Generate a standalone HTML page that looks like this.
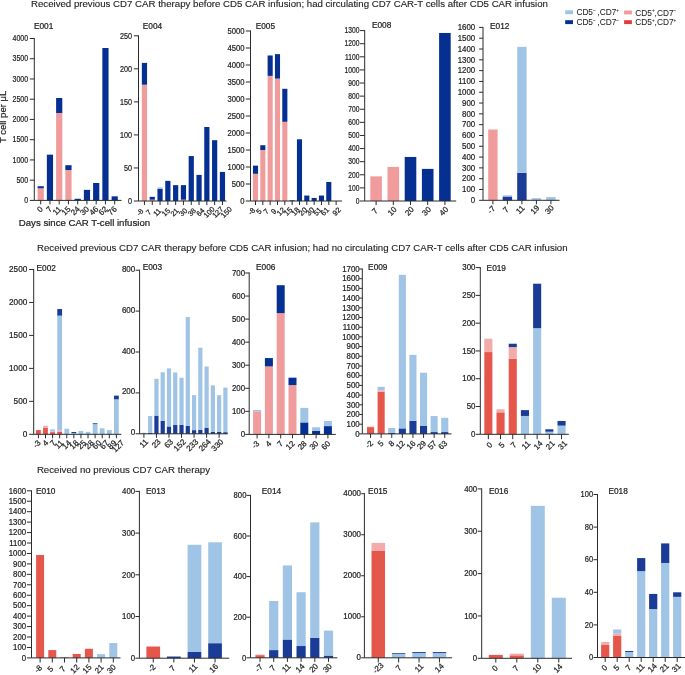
<!DOCTYPE html>
<html><head><meta charset="utf-8"><style>
html,body{margin:0;padding:0;background:#fff;}
svg{display:block;will-change:transform;}
text{font-family:"Liberation Sans", sans-serif;fill:#1e1e1e;stroke:#1e1e1e;stroke-width:0.22px;}
</style></head><body>
<svg width="685" height="675" viewBox="0 0 685 675">
<rect width="685" height="675" fill="#fff"/>
<rect x="37.60" y="188.26" width="6.20" height="12.14" fill="#f09c9c"/>
<rect x="37.60" y="186.23" width="6.20" height="2.02" fill="#052f91"/>
<rect x="46.85" y="154.66" width="6.20" height="45.74" fill="#052f91"/>
<rect x="56.10" y="112.97" width="6.20" height="87.43" fill="#f09c9c"/>
<rect x="56.10" y="98.00" width="6.20" height="14.98" fill="#052f91"/>
<rect x="65.35" y="170.04" width="6.20" height="30.36" fill="#f09c9c"/>
<rect x="65.35" y="165.19" width="6.20" height="4.86" fill="#052f91"/>
<rect x="74.60" y="198.78" width="6.20" height="1.62" fill="#052f91"/>
<rect x="83.85" y="189.88" width="6.20" height="10.52" fill="#052f91"/>
<rect x="93.10" y="183.00" width="6.20" height="17.40" fill="#052f91"/>
<rect x="102.35" y="48.01" width="6.20" height="152.39" fill="#052f91"/>
<rect x="111.60" y="196.35" width="6.20" height="4.05" fill="#052f91"/>
<path d="M34.30 38.00V200.40H121.50" fill="none" stroke="#2b2b2b" stroke-width="1"/>
<path d="M29.80 200.40H34.30" stroke="#2b2b2b" stroke-width="1"/>
<text transform="translate(28.10 203.15) scale(0.845 1)" font-size="8.3" text-anchor="end">0</text>
<path d="M29.80 180.16H34.30" stroke="#2b2b2b" stroke-width="1"/>
<text transform="translate(28.10 182.91) scale(0.845 1)" font-size="8.3" text-anchor="end">500</text>
<path d="M29.80 159.93H34.30" stroke="#2b2b2b" stroke-width="1"/>
<text transform="translate(28.10 162.67) scale(0.845 1)" font-size="8.3" text-anchor="end">1000</text>
<path d="M29.80 139.69H34.30" stroke="#2b2b2b" stroke-width="1"/>
<text transform="translate(28.10 142.43) scale(0.845 1)" font-size="8.3" text-anchor="end">1500</text>
<path d="M29.80 119.45H34.30" stroke="#2b2b2b" stroke-width="1"/>
<text transform="translate(28.10 122.20) scale(0.845 1)" font-size="8.3" text-anchor="end">2000</text>
<path d="M29.80 99.21H34.30" stroke="#2b2b2b" stroke-width="1"/>
<text transform="translate(28.10 101.96) scale(0.845 1)" font-size="8.3" text-anchor="end">2500</text>
<path d="M29.80 78.97H34.30" stroke="#2b2b2b" stroke-width="1"/>
<text transform="translate(28.10 81.72) scale(0.845 1)" font-size="8.3" text-anchor="end">3000</text>
<path d="M29.80 58.74H34.30" stroke="#2b2b2b" stroke-width="1"/>
<text transform="translate(28.10 61.48) scale(0.845 1)" font-size="8.3" text-anchor="end">3500</text>
<path d="M29.80 38.50H34.30" stroke="#2b2b2b" stroke-width="1"/>
<text transform="translate(28.10 41.25) scale(0.845 1)" font-size="8.3" text-anchor="end">4000</text>
<path d="M40.70 200.40V204.40" stroke="#2b2b2b" stroke-width="1"/>
<text x="43.30" y="209.56" font-size="8.0" text-anchor="end" transform="rotate(-45 43.30 209.56)">0</text>
<path d="M49.95 200.40V204.40" stroke="#2b2b2b" stroke-width="1"/>
<text x="52.55" y="209.56" font-size="8.0" text-anchor="end" transform="rotate(-45 52.55 209.56)">7</text>
<path d="M59.20 200.40V204.40" stroke="#2b2b2b" stroke-width="1"/>
<text x="61.80" y="209.56" font-size="8.0" text-anchor="end" transform="rotate(-45 61.80 209.56)">11</text>
<path d="M68.45 200.40V204.40" stroke="#2b2b2b" stroke-width="1"/>
<text x="71.05" y="209.56" font-size="8.0" text-anchor="end" transform="rotate(-45 71.05 209.56)">15</text>
<path d="M77.70 200.40V204.40" stroke="#2b2b2b" stroke-width="1"/>
<text x="80.30" y="209.56" font-size="8.0" text-anchor="end" transform="rotate(-45 80.30 209.56)">24</text>
<path d="M86.95 200.40V204.40" stroke="#2b2b2b" stroke-width="1"/>
<text x="89.55" y="209.56" font-size="8.0" text-anchor="end" transform="rotate(-45 89.55 209.56)">30</text>
<path d="M96.20 200.40V204.40" stroke="#2b2b2b" stroke-width="1"/>
<text x="98.80" y="209.56" font-size="8.0" text-anchor="end" transform="rotate(-45 98.80 209.56)">46</text>
<path d="M105.45 200.40V204.40" stroke="#2b2b2b" stroke-width="1"/>
<text x="108.05" y="209.56" font-size="8.0" text-anchor="end" transform="rotate(-45 108.05 209.56)">62</text>
<path d="M114.70 200.40V204.40" stroke="#2b2b2b" stroke-width="1"/>
<text x="117.30" y="209.56" font-size="8.0" text-anchor="end" transform="rotate(-45 117.30 209.56)">76</text>
<text x="33.90" y="28.70" font-size="8.3" text-anchor="start" >E001</text>
<rect x="141.85" y="84.70" width="5.20" height="116.30" fill="#f09c9c"/>
<rect x="141.85" y="62.89" width="5.20" height="21.81" fill="#052f91"/>
<rect x="149.65" y="199.68" width="5.20" height="1.32" fill="#f09c9c"/>
<rect x="149.65" y="196.84" width="5.20" height="2.84" fill="#052f91"/>
<rect x="157.45" y="188.84" width="5.20" height="12.16" fill="#052f91"/>
<rect x="157.45" y="187.32" width="5.20" height="1.52" fill="#a0c4e6"/>
<rect x="165.25" y="180.85" width="5.20" height="20.15" fill="#052f91"/>
<rect x="173.05" y="185.14" width="5.20" height="15.86" fill="#052f91"/>
<rect x="180.85" y="199.68" width="5.20" height="1.32" fill="#f09c9c"/>
<rect x="180.85" y="185.14" width="5.20" height="14.54" fill="#052f91"/>
<rect x="188.65" y="156.07" width="5.20" height="44.93" fill="#052f91"/>
<rect x="196.45" y="174.90" width="5.20" height="26.10" fill="#052f91"/>
<rect x="204.25" y="126.99" width="5.20" height="74.01" fill="#052f91"/>
<rect x="212.05" y="140.21" width="5.20" height="60.79" fill="#052f91"/>
<rect x="219.85" y="171.92" width="5.20" height="29.08" fill="#052f91"/>
<path d="M138.50 35.30V201.00H226.50" fill="none" stroke="#2b2b2b" stroke-width="1"/>
<path d="M133.90 201.00H138.50" stroke="#2b2b2b" stroke-width="1"/>
<text transform="translate(132.00 203.75) scale(0.87 1)" font-size="8.3" text-anchor="end">0</text>
<path d="M133.90 167.96H138.50" stroke="#2b2b2b" stroke-width="1"/>
<text transform="translate(132.00 170.71) scale(0.87 1)" font-size="8.3" text-anchor="end">50</text>
<path d="M133.90 134.92H138.50" stroke="#2b2b2b" stroke-width="1"/>
<text transform="translate(132.00 137.67) scale(0.87 1)" font-size="8.3" text-anchor="end">100</text>
<path d="M133.90 101.88H138.50" stroke="#2b2b2b" stroke-width="1"/>
<text transform="translate(132.00 104.63) scale(0.87 1)" font-size="8.3" text-anchor="end">150</text>
<path d="M133.90 68.84H138.50" stroke="#2b2b2b" stroke-width="1"/>
<text transform="translate(132.00 71.59) scale(0.87 1)" font-size="8.3" text-anchor="end">200</text>
<path d="M133.90 35.80H138.50" stroke="#2b2b2b" stroke-width="1"/>
<text transform="translate(132.00 38.55) scale(0.87 1)" font-size="8.3" text-anchor="end">250</text>
<path d="M144.45 201.00V205.00" stroke="#2b2b2b" stroke-width="1"/>
<text x="141.70" y="213.95" font-size="7.3" text-anchor="middle" transform="rotate(-45 141.70 213.95)">-8</text>
<path d="M152.25 201.00V205.00" stroke="#2b2b2b" stroke-width="1"/>
<text x="150.35" y="213.95" font-size="7.3" text-anchor="middle" transform="rotate(-45 150.35 213.95)">7</text>
<path d="M160.05 201.00V205.00" stroke="#2b2b2b" stroke-width="1"/>
<text x="159.00" y="213.95" font-size="7.3" text-anchor="middle" transform="rotate(-45 159.00 213.95)">11</text>
<path d="M167.85 201.00V205.00" stroke="#2b2b2b" stroke-width="1"/>
<text x="167.65" y="213.95" font-size="7.3" text-anchor="middle" transform="rotate(-45 167.65 213.95)">15</text>
<path d="M175.65 201.00V205.00" stroke="#2b2b2b" stroke-width="1"/>
<text x="176.30" y="213.95" font-size="7.3" text-anchor="middle" transform="rotate(-45 176.30 213.95)">21</text>
<path d="M183.45 201.00V205.00" stroke="#2b2b2b" stroke-width="1"/>
<text x="184.95" y="213.95" font-size="7.3" text-anchor="middle" transform="rotate(-45 184.95 213.95)">30</text>
<path d="M191.25 201.00V205.00" stroke="#2b2b2b" stroke-width="1"/>
<text x="193.60" y="213.95" font-size="7.3" text-anchor="middle" transform="rotate(-45 193.60 213.95)">38</text>
<path d="M199.05 201.00V205.00" stroke="#2b2b2b" stroke-width="1"/>
<text x="202.25" y="213.95" font-size="7.3" text-anchor="middle" transform="rotate(-45 202.25 213.95)">64</text>
<path d="M206.85 201.00V205.00" stroke="#2b2b2b" stroke-width="1"/>
<text x="210.90" y="213.95" font-size="7.3" text-anchor="middle" transform="rotate(-45 210.90 213.95)">100</text>
<path d="M214.65 201.00V205.00" stroke="#2b2b2b" stroke-width="1"/>
<text x="219.55" y="213.95" font-size="7.3" text-anchor="middle" transform="rotate(-45 219.55 213.95)">127</text>
<path d="M222.45 201.00V205.00" stroke="#2b2b2b" stroke-width="1"/>
<text x="228.20" y="213.95" font-size="7.3" text-anchor="middle" transform="rotate(-45 228.20 213.95)">150</text>
<text x="142.80" y="28.90" font-size="8.3" text-anchor="start" >E004</text>
<rect x="252.95" y="173.80" width="5.10" height="27.20" fill="#f09c9c"/>
<rect x="252.95" y="165.64" width="5.10" height="8.16" fill="#052f91"/>
<rect x="260.28" y="150.00" width="5.10" height="51.00" fill="#f09c9c"/>
<rect x="260.28" y="145.24" width="5.10" height="4.76" fill="#052f91"/>
<rect x="267.61" y="75.88" width="5.10" height="125.12" fill="#f09c9c"/>
<rect x="267.61" y="55.48" width="5.10" height="20.40" fill="#052f91"/>
<rect x="274.94" y="78.60" width="5.10" height="122.40" fill="#f09c9c"/>
<rect x="274.94" y="54.12" width="5.10" height="24.48" fill="#052f91"/>
<rect x="282.27" y="121.78" width="5.10" height="79.22" fill="#f09c9c"/>
<rect x="282.27" y="88.80" width="5.10" height="32.98" fill="#052f91"/>
<rect x="289.60" y="200.32" width="5.10" height="0.68" fill="#052f91"/>
<rect x="296.93" y="139.29" width="5.10" height="61.71" fill="#052f91"/>
<rect x="304.26" y="195.56" width="5.10" height="5.44" fill="#052f91"/>
<rect x="311.59" y="197.94" width="5.10" height="3.06" fill="#052f91"/>
<rect x="318.92" y="195.56" width="5.10" height="5.44" fill="#052f91"/>
<rect x="326.25" y="181.96" width="5.10" height="19.04" fill="#052f91"/>
<path d="M250.50 30.50V201.00H342.00" fill="none" stroke="#2b2b2b" stroke-width="1"/>
<path d="M245.80 201.00H250.50" stroke="#2b2b2b" stroke-width="1"/>
<text transform="translate(244.40 203.75) scale(0.92 1)" font-size="8.3" text-anchor="end">0</text>
<path d="M245.80 184.00H250.50" stroke="#2b2b2b" stroke-width="1"/>
<text transform="translate(244.40 186.75) scale(0.92 1)" font-size="8.3" text-anchor="end">500</text>
<path d="M245.80 167.00H250.50" stroke="#2b2b2b" stroke-width="1"/>
<text transform="translate(244.40 169.75) scale(0.92 1)" font-size="8.3" text-anchor="end">1000</text>
<path d="M245.80 150.00H250.50" stroke="#2b2b2b" stroke-width="1"/>
<text transform="translate(244.40 152.75) scale(0.92 1)" font-size="8.3" text-anchor="end">1500</text>
<path d="M245.80 133.00H250.50" stroke="#2b2b2b" stroke-width="1"/>
<text transform="translate(244.40 135.75) scale(0.92 1)" font-size="8.3" text-anchor="end">2000</text>
<path d="M245.80 116.00H250.50" stroke="#2b2b2b" stroke-width="1"/>
<text transform="translate(244.40 118.75) scale(0.92 1)" font-size="8.3" text-anchor="end">2500</text>
<path d="M245.80 99.00H250.50" stroke="#2b2b2b" stroke-width="1"/>
<text transform="translate(244.40 101.75) scale(0.92 1)" font-size="8.3" text-anchor="end">3000</text>
<path d="M245.80 82.00H250.50" stroke="#2b2b2b" stroke-width="1"/>
<text transform="translate(244.40 84.75) scale(0.92 1)" font-size="8.3" text-anchor="end">3500</text>
<path d="M245.80 65.00H250.50" stroke="#2b2b2b" stroke-width="1"/>
<text transform="translate(244.40 67.75) scale(0.92 1)" font-size="8.3" text-anchor="end">4000</text>
<path d="M245.80 48.00H250.50" stroke="#2b2b2b" stroke-width="1"/>
<text transform="translate(244.40 50.75) scale(0.92 1)" font-size="8.3" text-anchor="end">4500</text>
<path d="M245.80 31.00H250.50" stroke="#2b2b2b" stroke-width="1"/>
<text transform="translate(244.40 33.75) scale(0.92 1)" font-size="8.3" text-anchor="end">5000</text>
<path d="M255.50 201.00V205.00" stroke="#2b2b2b" stroke-width="1"/>
<text x="253.40" y="213.20" font-size="7.5" text-anchor="middle" transform="rotate(-45 253.40 213.20)">-8</text>
<path d="M262.83 201.00V205.00" stroke="#2b2b2b" stroke-width="1"/>
<text x="260.73" y="213.20" font-size="7.5" text-anchor="middle" transform="rotate(-45 260.73 213.20)">5</text>
<path d="M270.16 201.00V205.00" stroke="#2b2b2b" stroke-width="1"/>
<text x="268.06" y="213.20" font-size="7.5" text-anchor="middle" transform="rotate(-45 268.06 213.20)">7</text>
<path d="M277.49 201.00V205.00" stroke="#2b2b2b" stroke-width="1"/>
<text x="275.39" y="213.20" font-size="7.5" text-anchor="middle" transform="rotate(-45 275.39 213.20)">9</text>
<path d="M284.82 201.00V205.00" stroke="#2b2b2b" stroke-width="1"/>
<text x="282.72" y="213.20" font-size="7.5" text-anchor="middle" transform="rotate(-45 282.72 213.20)">12</text>
<path d="M292.15 201.00V205.00" stroke="#2b2b2b" stroke-width="1"/>
<text x="290.05" y="213.20" font-size="7.5" text-anchor="middle" transform="rotate(-45 290.05 213.20)">15</text>
<path d="M299.48 201.00V205.00" stroke="#2b2b2b" stroke-width="1"/>
<text x="297.38" y="213.20" font-size="7.5" text-anchor="middle" transform="rotate(-45 297.38 213.20)">18</text>
<path d="M306.81 201.00V205.00" stroke="#2b2b2b" stroke-width="1"/>
<text x="304.71" y="213.20" font-size="7.5" text-anchor="middle" transform="rotate(-45 304.71 213.20)">20</text>
<path d="M314.14 201.00V205.00" stroke="#2b2b2b" stroke-width="1"/>
<text x="312.04" y="213.20" font-size="7.5" text-anchor="middle" transform="rotate(-45 312.04 213.20)">30</text>
<path d="M321.47 201.00V205.00" stroke="#2b2b2b" stroke-width="1"/>
<text x="319.37" y="213.20" font-size="7.5" text-anchor="middle" transform="rotate(-45 319.37 213.20)">51</text>
<path d="M328.80 201.00V205.00" stroke="#2b2b2b" stroke-width="1"/>
<text x="326.70" y="213.20" font-size="7.5" text-anchor="middle" transform="rotate(-45 326.70 213.20)">61</text>
<path d="M336.13 201.00V205.00" stroke="#2b2b2b" stroke-width="1"/>
<text x="338.53" y="213.20" font-size="7.5" text-anchor="middle" transform="rotate(-45 338.53 213.20)">92</text>
<text x="255.70" y="28.60" font-size="8.3" text-anchor="start" >E005</text>
<rect x="370.30" y="176.36" width="11.60" height="24.64" fill="#f09c9c"/>
<rect x="387.50" y="166.92" width="11.60" height="34.08" fill="#f09c9c"/>
<rect x="404.70" y="156.96" width="11.60" height="44.04" fill="#052f91"/>
<rect x="421.90" y="168.89" width="11.60" height="32.11" fill="#052f91"/>
<rect x="439.10" y="32.96" width="11.60" height="168.04" fill="#052f91"/>
<path d="M364.70 30.10V201.00H456.20" fill="none" stroke="#2b2b2b" stroke-width="1"/>
<path d="M360.00 201.00H364.70" stroke="#2b2b2b" stroke-width="1"/>
<text transform="translate(359.40 203.75) scale(0.81 1)" font-size="8.3" text-anchor="end">0</text>
<path d="M360.00 187.89H364.70" stroke="#2b2b2b" stroke-width="1"/>
<text transform="translate(359.40 190.64) scale(0.81 1)" font-size="8.3" text-anchor="end">100</text>
<path d="M360.00 174.78H364.70" stroke="#2b2b2b" stroke-width="1"/>
<text transform="translate(359.40 177.53) scale(0.81 1)" font-size="8.3" text-anchor="end">200</text>
<path d="M360.00 161.68H364.70" stroke="#2b2b2b" stroke-width="1"/>
<text transform="translate(359.40 164.42) scale(0.81 1)" font-size="8.3" text-anchor="end">300</text>
<path d="M360.00 148.57H364.70" stroke="#2b2b2b" stroke-width="1"/>
<text transform="translate(359.40 151.32) scale(0.81 1)" font-size="8.3" text-anchor="end">400</text>
<path d="M360.00 135.46H364.70" stroke="#2b2b2b" stroke-width="1"/>
<text transform="translate(359.40 138.21) scale(0.81 1)" font-size="8.3" text-anchor="end">500</text>
<path d="M360.00 122.35H364.70" stroke="#2b2b2b" stroke-width="1"/>
<text transform="translate(359.40 125.10) scale(0.81 1)" font-size="8.3" text-anchor="end">600</text>
<path d="M360.00 109.25H364.70" stroke="#2b2b2b" stroke-width="1"/>
<text transform="translate(359.40 111.99) scale(0.81 1)" font-size="8.3" text-anchor="end">700</text>
<path d="M360.00 96.14H364.70" stroke="#2b2b2b" stroke-width="1"/>
<text transform="translate(359.40 98.88) scale(0.81 1)" font-size="8.3" text-anchor="end">800</text>
<path d="M360.00 83.03H364.70" stroke="#2b2b2b" stroke-width="1"/>
<text transform="translate(359.40 85.78) scale(0.81 1)" font-size="8.3" text-anchor="end">900</text>
<path d="M360.00 69.92H364.70" stroke="#2b2b2b" stroke-width="1"/>
<text transform="translate(359.40 72.67) scale(0.81 1)" font-size="8.3" text-anchor="end">1000</text>
<path d="M360.00 56.82H364.70" stroke="#2b2b2b" stroke-width="1"/>
<text transform="translate(359.40 59.56) scale(0.81 1)" font-size="8.3" text-anchor="end">1100</text>
<path d="M360.00 43.71H364.70" stroke="#2b2b2b" stroke-width="1"/>
<text transform="translate(359.40 46.45) scale(0.81 1)" font-size="8.3" text-anchor="end">1200</text>
<path d="M360.00 30.60H364.70" stroke="#2b2b2b" stroke-width="1"/>
<text transform="translate(359.40 33.35) scale(0.81 1)" font-size="8.3" text-anchor="end">1300</text>
<path d="M376.10 201.00V205.00" stroke="#2b2b2b" stroke-width="1"/>
<text x="376.92" y="213.02" font-size="8.0" text-anchor="middle" transform="rotate(-45 376.92 213.02)">7</text>
<path d="M393.30 201.00V205.00" stroke="#2b2b2b" stroke-width="1"/>
<text x="394.12" y="213.02" font-size="8.0" text-anchor="middle" transform="rotate(-45 394.12 213.02)">10</text>
<path d="M410.50 201.00V205.00" stroke="#2b2b2b" stroke-width="1"/>
<text x="411.32" y="213.02" font-size="8.0" text-anchor="middle" transform="rotate(-45 411.32 213.02)">20</text>
<path d="M427.70 201.00V205.00" stroke="#2b2b2b" stroke-width="1"/>
<text x="428.52" y="213.02" font-size="8.0" text-anchor="middle" transform="rotate(-45 428.52 213.02)">30</text>
<path d="M444.90 201.00V205.00" stroke="#2b2b2b" stroke-width="1"/>
<text x="445.72" y="213.02" font-size="8.0" text-anchor="middle" transform="rotate(-45 445.72 213.02)">40</text>
<text x="371.90" y="28.30" font-size="8.3" text-anchor="start" >E008</text>
<rect x="488.20" y="129.52" width="9.40" height="70.78" fill="#f09c9c"/>
<rect x="502.70" y="196.52" width="9.40" height="3.78" fill="#1a3c96"/>
<rect x="502.70" y="195.33" width="9.40" height="1.19" fill="#a0c4e6"/>
<rect x="517.20" y="172.74" width="9.40" height="27.56" fill="#1a3c96"/>
<rect x="517.20" y="46.85" width="9.40" height="125.89" fill="#a0c4e6"/>
<rect x="531.70" y="198.14" width="9.40" height="2.16" fill="#a0c4e6"/>
<rect x="546.20" y="197.06" width="9.40" height="3.24" fill="#a0c4e6"/>
<path d="M483.00 26.90V200.30H559.50" fill="none" stroke="#2b2b2b" stroke-width="1"/>
<path d="M479.10 200.30H483.00" stroke="#2b2b2b" stroke-width="1"/>
<text transform="translate(475.20 203.05) scale(0.95 1)" font-size="8.3" text-anchor="end">0</text>
<path d="M479.10 189.49H483.00" stroke="#2b2b2b" stroke-width="1"/>
<text transform="translate(475.20 192.24) scale(0.95 1)" font-size="8.3" text-anchor="end">100</text>
<path d="M479.10 178.69H483.00" stroke="#2b2b2b" stroke-width="1"/>
<text transform="translate(475.20 181.43) scale(0.95 1)" font-size="8.3" text-anchor="end">200</text>
<path d="M479.10 167.88H483.00" stroke="#2b2b2b" stroke-width="1"/>
<text transform="translate(475.20 170.63) scale(0.95 1)" font-size="8.3" text-anchor="end">300</text>
<path d="M479.10 157.08H483.00" stroke="#2b2b2b" stroke-width="1"/>
<text transform="translate(475.20 159.82) scale(0.95 1)" font-size="8.3" text-anchor="end">400</text>
<path d="M479.10 146.27H483.00" stroke="#2b2b2b" stroke-width="1"/>
<text transform="translate(475.20 149.02) scale(0.95 1)" font-size="8.3" text-anchor="end">500</text>
<path d="M479.10 135.46H483.00" stroke="#2b2b2b" stroke-width="1"/>
<text transform="translate(475.20 138.21) scale(0.95 1)" font-size="8.3" text-anchor="end">600</text>
<path d="M479.10 124.66H483.00" stroke="#2b2b2b" stroke-width="1"/>
<text transform="translate(475.20 127.40) scale(0.95 1)" font-size="8.3" text-anchor="end">700</text>
<path d="M479.10 113.85H483.00" stroke="#2b2b2b" stroke-width="1"/>
<text transform="translate(475.20 116.60) scale(0.95 1)" font-size="8.3" text-anchor="end">800</text>
<path d="M479.10 103.04H483.00" stroke="#2b2b2b" stroke-width="1"/>
<text transform="translate(475.20 105.79) scale(0.95 1)" font-size="8.3" text-anchor="end">900</text>
<path d="M479.10 92.24H483.00" stroke="#2b2b2b" stroke-width="1"/>
<text transform="translate(475.20 94.98) scale(0.95 1)" font-size="8.3" text-anchor="end">1000</text>
<path d="M479.10 81.43H483.00" stroke="#2b2b2b" stroke-width="1"/>
<text transform="translate(475.20 84.18) scale(0.95 1)" font-size="8.3" text-anchor="end">1100</text>
<path d="M479.10 70.62H483.00" stroke="#2b2b2b" stroke-width="1"/>
<text transform="translate(475.20 73.37) scale(0.95 1)" font-size="8.3" text-anchor="end">1200</text>
<path d="M479.10 59.82H483.00" stroke="#2b2b2b" stroke-width="1"/>
<text transform="translate(475.20 62.57) scale(0.95 1)" font-size="8.3" text-anchor="end">1300</text>
<path d="M479.10 49.01H483.00" stroke="#2b2b2b" stroke-width="1"/>
<text transform="translate(475.20 51.76) scale(0.95 1)" font-size="8.3" text-anchor="end">1400</text>
<path d="M479.10 38.21H483.00" stroke="#2b2b2b" stroke-width="1"/>
<text transform="translate(475.20 40.95) scale(0.95 1)" font-size="8.3" text-anchor="end">1500</text>
<path d="M479.10 27.40H483.00" stroke="#2b2b2b" stroke-width="1"/>
<text transform="translate(475.20 30.15) scale(0.95 1)" font-size="8.3" text-anchor="end">1600</text>
<path d="M492.90 200.30V204.30" stroke="#2b2b2b" stroke-width="1"/>
<text x="493.32" y="211.62" font-size="8.0" text-anchor="middle" transform="rotate(-45 493.32 211.62)">-7</text>
<path d="M507.40 200.30V204.30" stroke="#2b2b2b" stroke-width="1"/>
<text x="507.82" y="211.62" font-size="8.0" text-anchor="middle" transform="rotate(-45 507.82 211.62)">7</text>
<path d="M521.90 200.30V204.30" stroke="#2b2b2b" stroke-width="1"/>
<text x="522.32" y="211.62" font-size="8.0" text-anchor="middle" transform="rotate(-45 522.32 211.62)">11</text>
<path d="M536.40 200.30V204.30" stroke="#2b2b2b" stroke-width="1"/>
<text x="536.82" y="211.62" font-size="8.0" text-anchor="middle" transform="rotate(-45 536.82 211.62)">19</text>
<path d="M550.90 200.30V204.30" stroke="#2b2b2b" stroke-width="1"/>
<text x="551.32" y="211.62" font-size="8.0" text-anchor="middle" transform="rotate(-45 551.32 211.62)">30</text>
<text x="490.00" y="28.60" font-size="8.3" text-anchor="start" >E012</text>
<rect x="36.00" y="430.08" width="4.80" height="4.22" fill="#e6574b"/>
<rect x="43.09" y="427.71" width="4.80" height="6.59" fill="#e6574b"/>
<rect x="43.09" y="425.73" width="4.80" height="1.98" fill="#f2aaaa"/>
<rect x="50.18" y="432.12" width="4.80" height="2.18" fill="#e6574b"/>
<rect x="50.18" y="431.33" width="4.80" height="0.79" fill="#f2aaaa"/>
<rect x="50.18" y="429.36" width="4.80" height="1.98" fill="#a0c4e6"/>
<rect x="57.27" y="431.66" width="4.80" height="2.64" fill="#e6574b"/>
<rect x="57.27" y="430.34" width="4.80" height="1.32" fill="#f2aaaa"/>
<rect x="57.27" y="315.64" width="4.80" height="114.70" fill="#a0c4e6"/>
<rect x="57.27" y="309.05" width="4.80" height="6.59" fill="#1a3c96"/>
<rect x="64.36" y="428.70" width="4.80" height="5.60" fill="#a0c4e6"/>
<rect x="71.45" y="432.98" width="4.80" height="1.32" fill="#a0c4e6"/>
<rect x="71.45" y="431.99" width="4.80" height="0.99" fill="#1a3c96"/>
<rect x="78.54" y="431.00" width="4.80" height="3.30" fill="#a0c4e6"/>
<rect x="85.63" y="431.80" width="4.80" height="2.50" fill="#a0c4e6"/>
<rect x="92.72" y="424.08" width="4.80" height="10.22" fill="#a0c4e6"/>
<rect x="92.72" y="423.29" width="4.80" height="0.79" fill="#1a3c96"/>
<rect x="99.81" y="428.30" width="4.80" height="6.00" fill="#a0c4e6"/>
<rect x="106.90" y="430.08" width="4.80" height="4.22" fill="#a0c4e6"/>
<rect x="113.99" y="399.36" width="4.80" height="34.94" fill="#a0c4e6"/>
<rect x="113.99" y="395.60" width="4.80" height="3.76" fill="#1a3c96"/>
<path d="M33.70 269.00V434.30H121.30" fill="none" stroke="#2b2b2b" stroke-width="1"/>
<path d="M29.10 434.30H33.70" stroke="#2b2b2b" stroke-width="1"/>
<text transform="translate(27.30 437.05) scale(0.99 1)" font-size="8.3" text-anchor="end">0</text>
<path d="M29.10 401.34H33.70" stroke="#2b2b2b" stroke-width="1"/>
<text transform="translate(27.30 404.09) scale(0.99 1)" font-size="8.3" text-anchor="end">500</text>
<path d="M29.10 368.38H33.70" stroke="#2b2b2b" stroke-width="1"/>
<text transform="translate(27.30 371.13) scale(0.99 1)" font-size="8.3" text-anchor="end">1000</text>
<path d="M29.10 335.42H33.70" stroke="#2b2b2b" stroke-width="1"/>
<text transform="translate(27.30 338.17) scale(0.99 1)" font-size="8.3" text-anchor="end">1500</text>
<path d="M29.10 302.46H33.70" stroke="#2b2b2b" stroke-width="1"/>
<text transform="translate(27.30 305.21) scale(0.99 1)" font-size="8.3" text-anchor="end">2000</text>
<path d="M29.10 269.50H33.70" stroke="#2b2b2b" stroke-width="1"/>
<text transform="translate(27.30 272.25) scale(0.99 1)" font-size="8.3" text-anchor="end">2500</text>
<path d="M38.40 434.30V438.30" stroke="#2b2b2b" stroke-width="1"/>
<text x="41.20" y="443.36" font-size="8.0" text-anchor="end" transform="rotate(-45 41.20 443.36)">-3</text>
<path d="M45.49 434.30V438.30" stroke="#2b2b2b" stroke-width="1"/>
<text x="48.79" y="443.36" font-size="8.0" text-anchor="end" transform="rotate(-45 48.79 443.36)">4</text>
<path d="M52.58 434.30V438.30" stroke="#2b2b2b" stroke-width="1"/>
<text x="56.38" y="443.36" font-size="8.0" text-anchor="end" transform="rotate(-45 56.38 443.36)">7</text>
<path d="M59.67 434.30V438.30" stroke="#2b2b2b" stroke-width="1"/>
<text x="63.97" y="443.36" font-size="8.0" text-anchor="end" transform="rotate(-45 63.97 443.36)">11</text>
<path d="M66.76 434.30V438.30" stroke="#2b2b2b" stroke-width="1"/>
<text x="71.56" y="443.36" font-size="8.0" text-anchor="end" transform="rotate(-45 71.56 443.36)">14</text>
<path d="M73.85 434.30V438.30" stroke="#2b2b2b" stroke-width="1"/>
<text x="79.15" y="443.36" font-size="8.0" text-anchor="end" transform="rotate(-45 79.15 443.36)">18</text>
<path d="M80.94 434.30V438.30" stroke="#2b2b2b" stroke-width="1"/>
<text x="86.74" y="443.36" font-size="8.0" text-anchor="end" transform="rotate(-45 86.74 443.36)">25</text>
<path d="M88.03 434.30V438.30" stroke="#2b2b2b" stroke-width="1"/>
<text x="94.33" y="443.36" font-size="8.0" text-anchor="end" transform="rotate(-45 94.33 443.36)">28</text>
<path d="M95.12 434.30V438.30" stroke="#2b2b2b" stroke-width="1"/>
<text x="101.92" y="443.36" font-size="8.0" text-anchor="end" transform="rotate(-45 101.92 443.36)">60</text>
<path d="M102.21 434.30V438.30" stroke="#2b2b2b" stroke-width="1"/>
<text x="109.51" y="443.36" font-size="8.0" text-anchor="end" transform="rotate(-45 109.51 443.36)">67</text>
<path d="M109.30 434.30V438.30" stroke="#2b2b2b" stroke-width="1"/>
<text x="117.10" y="443.36" font-size="8.0" text-anchor="end" transform="rotate(-45 117.10 443.36)">89</text>
<path d="M116.39 434.30V438.30" stroke="#2b2b2b" stroke-width="1"/>
<text x="124.69" y="443.36" font-size="8.0" text-anchor="end" transform="rotate(-45 124.69 443.36)">127</text>
<text x="36.50" y="270.50" font-size="8.3" text-anchor="start" >E002</text>
<rect x="141.80" y="432.78" width="4.20" height="1.02" fill="#a0c4e6"/>
<rect x="148.07" y="432.78" width="4.20" height="1.02" fill="#1a3c96"/>
<rect x="148.07" y="416.01" width="4.20" height="16.77" fill="#a0c4e6"/>
<rect x="154.34" y="415.60" width="4.20" height="18.20" fill="#1a3c96"/>
<rect x="154.34" y="378.79" width="4.20" height="36.81" fill="#a0c4e6"/>
<rect x="160.61" y="420.71" width="4.20" height="13.09" fill="#1a3c96"/>
<rect x="160.61" y="372.25" width="4.20" height="48.47" fill="#a0c4e6"/>
<rect x="166.88" y="426.44" width="4.20" height="7.36" fill="#1a3c96"/>
<rect x="166.88" y="368.36" width="4.20" height="58.08" fill="#a0c4e6"/>
<rect x="173.15" y="425.01" width="4.20" height="8.79" fill="#1a3c96"/>
<rect x="173.15" y="372.45" width="4.20" height="52.56" fill="#a0c4e6"/>
<rect x="179.42" y="424.80" width="4.20" height="9.00" fill="#1a3c96"/>
<rect x="179.42" y="377.77" width="4.20" height="47.04" fill="#a0c4e6"/>
<rect x="185.69" y="425.82" width="4.20" height="7.98" fill="#1a3c96"/>
<rect x="185.69" y="317.03" width="4.20" height="108.79" fill="#a0c4e6"/>
<rect x="191.96" y="430.12" width="4.20" height="3.68" fill="#1a3c96"/>
<rect x="191.96" y="395.15" width="4.20" height="34.97" fill="#a0c4e6"/>
<rect x="198.23" y="429.71" width="4.20" height="4.09" fill="#1a3c96"/>
<rect x="198.23" y="347.71" width="4.20" height="82.00" fill="#a0c4e6"/>
<rect x="204.50" y="427.67" width="4.20" height="6.13" fill="#1a3c96"/>
<rect x="204.50" y="366.52" width="4.20" height="61.15" fill="#a0c4e6"/>
<rect x="210.77" y="431.96" width="4.20" height="1.84" fill="#1a3c96"/>
<rect x="210.77" y="385.33" width="4.20" height="46.63" fill="#a0c4e6"/>
<rect x="217.04" y="431.96" width="4.20" height="1.84" fill="#1a3c96"/>
<rect x="217.04" y="395.15" width="4.20" height="36.81" fill="#a0c4e6"/>
<rect x="223.31" y="432.16" width="4.20" height="1.64" fill="#1a3c96"/>
<rect x="223.31" y="387.58" width="4.20" height="44.58" fill="#a0c4e6"/>
<path d="M139.60 269.70V433.80H227.70" fill="none" stroke="#2b2b2b" stroke-width="1"/>
<path d="M135.60 433.80H139.60" stroke="#2b2b2b" stroke-width="1"/>
<text transform="translate(135.30 435.35) scale(0.97 1)" font-size="8.3" text-anchor="end">0</text>
<path d="M135.60 392.90H139.60" stroke="#2b2b2b" stroke-width="1"/>
<text transform="translate(135.30 394.45) scale(0.97 1)" font-size="8.3" text-anchor="end">200</text>
<path d="M135.60 352.00H139.60" stroke="#2b2b2b" stroke-width="1"/>
<text transform="translate(135.30 353.55) scale(0.97 1)" font-size="8.3" text-anchor="end">400</text>
<path d="M135.60 311.10H139.60" stroke="#2b2b2b" stroke-width="1"/>
<text transform="translate(135.30 312.65) scale(0.97 1)" font-size="8.3" text-anchor="end">600</text>
<path d="M135.60 270.20H139.60" stroke="#2b2b2b" stroke-width="1"/>
<text transform="translate(135.30 271.75) scale(0.97 1)" font-size="8.3" text-anchor="end">800</text>
<path d="M143.90 433.80V437.80" stroke="#2b2b2b" stroke-width="1"/>
<text x="148.70" y="442.26" font-size="8.0" text-anchor="end" transform="rotate(-45 148.70 442.26)">11</text>
<path d="M156.44 433.80V437.80" stroke="#2b2b2b" stroke-width="1"/>
<text x="161.24" y="442.26" font-size="8.0" text-anchor="end" transform="rotate(-45 161.24 442.26)">23</text>
<path d="M168.98 433.80V437.80" stroke="#2b2b2b" stroke-width="1"/>
<text x="173.78" y="442.26" font-size="8.0" text-anchor="end" transform="rotate(-45 173.78 442.26)">63</text>
<path d="M181.52 433.80V437.80" stroke="#2b2b2b" stroke-width="1"/>
<text x="186.32" y="442.26" font-size="8.0" text-anchor="end" transform="rotate(-45 186.32 442.26)">152</text>
<path d="M194.06 433.80V437.80" stroke="#2b2b2b" stroke-width="1"/>
<text x="198.86" y="442.26" font-size="8.0" text-anchor="end" transform="rotate(-45 198.86 442.26)">233</text>
<path d="M206.60 433.80V437.80" stroke="#2b2b2b" stroke-width="1"/>
<text x="211.40" y="442.26" font-size="8.0" text-anchor="end" transform="rotate(-45 211.40 442.26)">264</text>
<path d="M219.14 433.80V437.80" stroke="#2b2b2b" stroke-width="1"/>
<text x="223.94" y="442.26" font-size="8.0" text-anchor="end" transform="rotate(-45 223.94 442.26)">330</text>
<text x="142.70" y="270.40" font-size="8.3" text-anchor="start" >E003</text>
<rect x="253.10" y="411.34" width="8.00" height="23.06" fill="#f09c9c"/>
<rect x="253.10" y="409.96" width="8.00" height="1.38" fill="#a0c4e6"/>
<rect x="264.90" y="366.38" width="8.00" height="68.02" fill="#f09c9c"/>
<rect x="264.90" y="358.08" width="8.00" height="8.30" fill="#052f91"/>
<rect x="276.70" y="313.12" width="8.00" height="121.28" fill="#f09c9c"/>
<rect x="276.70" y="285.22" width="8.00" height="27.90" fill="#052f91"/>
<rect x="288.50" y="385.06" width="8.00" height="49.34" fill="#f09c9c"/>
<rect x="288.50" y="377.68" width="8.00" height="7.38" fill="#052f91"/>
<rect x="300.30" y="422.41" width="8.00" height="11.99" fill="#052f91"/>
<rect x="300.30" y="407.88" width="8.00" height="14.53" fill="#a0c4e6"/>
<rect x="312.10" y="430.71" width="8.00" height="3.69" fill="#052f91"/>
<rect x="312.10" y="427.25" width="8.00" height="3.46" fill="#a0c4e6"/>
<rect x="323.90" y="426.10" width="8.00" height="8.30" fill="#052f91"/>
<rect x="323.90" y="421.03" width="8.00" height="5.07" fill="#a0c4e6"/>
<path d="M249.20 272.50V434.40H335.80" fill="none" stroke="#2b2b2b" stroke-width="1"/>
<path d="M245.20 434.40H249.20" stroke="#2b2b2b" stroke-width="1"/>
<text transform="translate(245.10 437.15) scale(0.95 1)" font-size="8.3" text-anchor="end">0</text>
<path d="M245.20 411.34H249.20" stroke="#2b2b2b" stroke-width="1"/>
<text transform="translate(245.10 414.09) scale(0.95 1)" font-size="8.3" text-anchor="end">100</text>
<path d="M245.20 388.29H249.20" stroke="#2b2b2b" stroke-width="1"/>
<text transform="translate(245.10 391.03) scale(0.95 1)" font-size="8.3" text-anchor="end">200</text>
<path d="M245.20 365.23H249.20" stroke="#2b2b2b" stroke-width="1"/>
<text transform="translate(245.10 367.98) scale(0.95 1)" font-size="8.3" text-anchor="end">300</text>
<path d="M245.20 342.17H249.20" stroke="#2b2b2b" stroke-width="1"/>
<text transform="translate(245.10 344.92) scale(0.95 1)" font-size="8.3" text-anchor="end">400</text>
<path d="M245.20 319.11H249.20" stroke="#2b2b2b" stroke-width="1"/>
<text transform="translate(245.10 321.86) scale(0.95 1)" font-size="8.3" text-anchor="end">500</text>
<path d="M245.20 296.06H249.20" stroke="#2b2b2b" stroke-width="1"/>
<text transform="translate(245.10 298.80) scale(0.95 1)" font-size="8.3" text-anchor="end">600</text>
<path d="M245.20 273.00H249.20" stroke="#2b2b2b" stroke-width="1"/>
<text transform="translate(245.10 275.75) scale(0.95 1)" font-size="8.3" text-anchor="end">700</text>
<path d="M257.10 434.40V438.40" stroke="#2b2b2b" stroke-width="1"/>
<text x="260.00" y="444.06" font-size="8.0" text-anchor="end" transform="rotate(-45 260.00 444.06)">-3</text>
<path d="M268.90 434.40V438.40" stroke="#2b2b2b" stroke-width="1"/>
<text x="271.80" y="444.06" font-size="8.0" text-anchor="end" transform="rotate(-45 271.80 444.06)">4</text>
<path d="M280.70 434.40V438.40" stroke="#2b2b2b" stroke-width="1"/>
<text x="283.60" y="444.06" font-size="8.0" text-anchor="end" transform="rotate(-45 283.60 444.06)">7</text>
<path d="M292.50 434.40V438.40" stroke="#2b2b2b" stroke-width="1"/>
<text x="295.40" y="444.06" font-size="8.0" text-anchor="end" transform="rotate(-45 295.40 444.06)">12</text>
<path d="M304.30 434.40V438.40" stroke="#2b2b2b" stroke-width="1"/>
<text x="307.20" y="444.06" font-size="8.0" text-anchor="end" transform="rotate(-45 307.20 444.06)">28</text>
<path d="M316.10 434.40V438.40" stroke="#2b2b2b" stroke-width="1"/>
<text x="319.00" y="444.06" font-size="8.0" text-anchor="end" transform="rotate(-45 319.00 444.06)">30</text>
<path d="M327.90 434.40V438.40" stroke="#2b2b2b" stroke-width="1"/>
<text x="330.80" y="444.06" font-size="8.0" text-anchor="end" transform="rotate(-45 330.80 444.06)">60</text>
<text x="256.00" y="270.20" font-size="8.3" text-anchor="start" >E006</text>
<rect x="367.00" y="427.11" width="7.10" height="6.79" fill="#e6574b"/>
<rect x="367.00" y="426.62" width="7.10" height="0.48" fill="#f2aaaa"/>
<rect x="377.60" y="391.80" width="7.10" height="42.10" fill="#e6574b"/>
<rect x="377.60" y="390.44" width="7.10" height="1.36" fill="#f2aaaa"/>
<rect x="377.60" y="386.85" width="7.10" height="3.59" fill="#a0c4e6"/>
<rect x="388.20" y="432.93" width="7.10" height="0.97" fill="#1a3c96"/>
<rect x="388.20" y="427.98" width="7.10" height="4.95" fill="#a0c4e6"/>
<rect x="398.80" y="428.37" width="7.10" height="5.53" fill="#1a3c96"/>
<rect x="398.80" y="274.82" width="7.10" height="153.55" fill="#a0c4e6"/>
<rect x="409.40" y="420.80" width="7.10" height="13.10" fill="#1a3c96"/>
<rect x="409.40" y="354.84" width="7.10" height="65.96" fill="#a0c4e6"/>
<rect x="420.00" y="425.65" width="7.10" height="8.25" fill="#1a3c96"/>
<rect x="420.00" y="372.79" width="7.10" height="52.87" fill="#a0c4e6"/>
<rect x="430.60" y="432.06" width="7.10" height="1.84" fill="#1a3c96"/>
<rect x="430.60" y="416.05" width="7.10" height="16.00" fill="#a0c4e6"/>
<rect x="441.20" y="432.06" width="7.10" height="1.84" fill="#1a3c96"/>
<rect x="441.20" y="417.80" width="7.10" height="14.26" fill="#a0c4e6"/>
<path d="M362.30 268.50V433.90H451.60" fill="none" stroke="#2b2b2b" stroke-width="1"/>
<path d="M359.30 433.90H362.30" stroke="#2b2b2b" stroke-width="1"/>
<text transform="translate(359.70 436.65) scale(0.95 1)" font-size="8.3" text-anchor="end">0</text>
<path d="M359.30 424.20H362.30" stroke="#2b2b2b" stroke-width="1"/>
<text transform="translate(359.70 426.95) scale(0.95 1)" font-size="8.3" text-anchor="end">100</text>
<path d="M359.30 414.50H362.30" stroke="#2b2b2b" stroke-width="1"/>
<text transform="translate(359.70 417.25) scale(0.95 1)" font-size="8.3" text-anchor="end">200</text>
<path d="M359.30 404.80H362.30" stroke="#2b2b2b" stroke-width="1"/>
<text transform="translate(359.70 407.55) scale(0.95 1)" font-size="8.3" text-anchor="end">300</text>
<path d="M359.30 395.10H362.30" stroke="#2b2b2b" stroke-width="1"/>
<text transform="translate(359.70 397.85) scale(0.95 1)" font-size="8.3" text-anchor="end">400</text>
<path d="M359.30 385.40H362.30" stroke="#2b2b2b" stroke-width="1"/>
<text transform="translate(359.70 388.15) scale(0.95 1)" font-size="8.3" text-anchor="end">500</text>
<path d="M359.30 375.70H362.30" stroke="#2b2b2b" stroke-width="1"/>
<text transform="translate(359.70 378.45) scale(0.95 1)" font-size="8.3" text-anchor="end">600</text>
<path d="M359.30 366.00H362.30" stroke="#2b2b2b" stroke-width="1"/>
<text transform="translate(359.70 368.75) scale(0.95 1)" font-size="8.3" text-anchor="end">700</text>
<path d="M359.30 356.30H362.30" stroke="#2b2b2b" stroke-width="1"/>
<text transform="translate(359.70 359.05) scale(0.95 1)" font-size="8.3" text-anchor="end">800</text>
<path d="M359.30 346.60H362.30" stroke="#2b2b2b" stroke-width="1"/>
<text transform="translate(359.70 349.35) scale(0.95 1)" font-size="8.3" text-anchor="end">900</text>
<path d="M359.30 336.90H362.30" stroke="#2b2b2b" stroke-width="1"/>
<text transform="translate(359.70 339.65) scale(0.95 1)" font-size="8.3" text-anchor="end">1000</text>
<path d="M359.30 327.20H362.30" stroke="#2b2b2b" stroke-width="1"/>
<text transform="translate(359.70 329.95) scale(0.95 1)" font-size="8.3" text-anchor="end">1100</text>
<path d="M359.30 317.50H362.30" stroke="#2b2b2b" stroke-width="1"/>
<text transform="translate(359.70 320.25) scale(0.95 1)" font-size="8.3" text-anchor="end">1200</text>
<path d="M359.30 307.80H362.30" stroke="#2b2b2b" stroke-width="1"/>
<text transform="translate(359.70 310.55) scale(0.95 1)" font-size="8.3" text-anchor="end">1300</text>
<path d="M359.30 298.10H362.30" stroke="#2b2b2b" stroke-width="1"/>
<text transform="translate(359.70 300.85) scale(0.95 1)" font-size="8.3" text-anchor="end">1400</text>
<path d="M359.30 288.40H362.30" stroke="#2b2b2b" stroke-width="1"/>
<text transform="translate(359.70 291.15) scale(0.95 1)" font-size="8.3" text-anchor="end">1500</text>
<path d="M359.30 278.70H362.30" stroke="#2b2b2b" stroke-width="1"/>
<text transform="translate(359.70 281.45) scale(0.95 1)" font-size="8.3" text-anchor="end">1600</text>
<path d="M359.30 269.00H362.30" stroke="#2b2b2b" stroke-width="1"/>
<text transform="translate(359.70 271.75) scale(0.95 1)" font-size="8.3" text-anchor="end">1700</text>
<path d="M370.55 433.90V437.90" stroke="#2b2b2b" stroke-width="1"/>
<text x="373.65" y="443.76" font-size="8.0" text-anchor="end" transform="rotate(-45 373.65 443.76)">-2</text>
<path d="M381.15 433.90V437.90" stroke="#2b2b2b" stroke-width="1"/>
<text x="384.25" y="443.76" font-size="8.0" text-anchor="end" transform="rotate(-45 384.25 443.76)">5</text>
<path d="M391.75 433.90V437.90" stroke="#2b2b2b" stroke-width="1"/>
<text x="394.85" y="443.76" font-size="8.0" text-anchor="end" transform="rotate(-45 394.85 443.76)">8</text>
<path d="M402.35 433.90V437.90" stroke="#2b2b2b" stroke-width="1"/>
<text x="405.45" y="443.76" font-size="8.0" text-anchor="end" transform="rotate(-45 405.45 443.76)">12</text>
<path d="M412.95 433.90V437.90" stroke="#2b2b2b" stroke-width="1"/>
<text x="416.05" y="443.76" font-size="8.0" text-anchor="end" transform="rotate(-45 416.05 443.76)">16</text>
<path d="M423.55 433.90V437.90" stroke="#2b2b2b" stroke-width="1"/>
<text x="426.65" y="443.76" font-size="8.0" text-anchor="end" transform="rotate(-45 426.65 443.76)">29</text>
<path d="M434.15 433.90V437.90" stroke="#2b2b2b" stroke-width="1"/>
<text x="437.25" y="443.76" font-size="8.0" text-anchor="end" transform="rotate(-45 437.25 443.76)">57</text>
<path d="M444.75 433.90V437.90" stroke="#2b2b2b" stroke-width="1"/>
<text x="447.85" y="443.76" font-size="8.0" text-anchor="end" transform="rotate(-45 447.85 443.76)">63</text>
<text x="368.10" y="270.20" font-size="8.3" text-anchor="start" >E009</text>
<rect x="484.30" y="352.06" width="8.10" height="82.24" fill="#e6574b"/>
<rect x="484.30" y="338.73" width="8.10" height="13.34" fill="#f2aaaa"/>
<rect x="496.50" y="412.35" width="8.10" height="21.95" fill="#e6574b"/>
<rect x="496.50" y="409.30" width="8.10" height="3.06" fill="#f2aaaa"/>
<rect x="508.70" y="358.73" width="8.10" height="75.57" fill="#e6574b"/>
<rect x="508.70" y="347.06" width="8.10" height="11.67" fill="#f2aaaa"/>
<rect x="508.70" y="343.73" width="8.10" height="3.33" fill="#1a3c96"/>
<rect x="520.90" y="415.96" width="8.10" height="18.34" fill="#a0c4e6"/>
<rect x="520.90" y="410.13" width="8.10" height="5.83" fill="#1a3c96"/>
<rect x="533.10" y="328.17" width="8.10" height="106.13" fill="#a0c4e6"/>
<rect x="533.10" y="283.71" width="8.10" height="44.45" fill="#1a3c96"/>
<rect x="545.30" y="431.69" width="8.10" height="2.61" fill="#a0c4e6"/>
<rect x="545.30" y="429.30" width="8.10" height="2.39" fill="#1a3c96"/>
<rect x="557.50" y="425.63" width="8.10" height="8.67" fill="#a0c4e6"/>
<rect x="557.50" y="420.96" width="8.10" height="4.67" fill="#1a3c96"/>
<path d="M480.30 267.10V434.30H568.80" fill="none" stroke="#2b2b2b" stroke-width="1"/>
<path d="M475.70 434.30H480.30" stroke="#2b2b2b" stroke-width="1"/>
<text transform="translate(475.40 437.05) scale(0.95 1)" font-size="8.3" text-anchor="end">0</text>
<path d="M475.70 406.52H480.30" stroke="#2b2b2b" stroke-width="1"/>
<text transform="translate(475.40 409.26) scale(0.95 1)" font-size="8.3" text-anchor="end">50</text>
<path d="M475.70 378.73H480.30" stroke="#2b2b2b" stroke-width="1"/>
<text transform="translate(475.40 381.48) scale(0.95 1)" font-size="8.3" text-anchor="end">100</text>
<path d="M475.70 350.95H480.30" stroke="#2b2b2b" stroke-width="1"/>
<text transform="translate(475.40 353.70) scale(0.95 1)" font-size="8.3" text-anchor="end">150</text>
<path d="M475.70 323.17H480.30" stroke="#2b2b2b" stroke-width="1"/>
<text transform="translate(475.40 325.91) scale(0.95 1)" font-size="8.3" text-anchor="end">200</text>
<path d="M475.70 295.38H480.30" stroke="#2b2b2b" stroke-width="1"/>
<text transform="translate(475.40 298.13) scale(0.95 1)" font-size="8.3" text-anchor="end">250</text>
<path d="M475.70 267.60H480.30" stroke="#2b2b2b" stroke-width="1"/>
<text transform="translate(475.40 270.35) scale(0.95 1)" font-size="8.3" text-anchor="end">300</text>
<path d="M488.35 434.30V439.20" stroke="#2b2b2b" stroke-width="1"/>
<text x="491.27" y="447.02" font-size="8.0" text-anchor="middle" transform="rotate(-45 491.27 447.02)">0</text>
<path d="M500.55 434.30V439.20" stroke="#2b2b2b" stroke-width="1"/>
<text x="503.47" y="447.02" font-size="8.0" text-anchor="middle" transform="rotate(-45 503.47 447.02)">5</text>
<path d="M512.75 434.30V439.20" stroke="#2b2b2b" stroke-width="1"/>
<text x="515.67" y="447.02" font-size="8.0" text-anchor="middle" transform="rotate(-45 515.67 447.02)">7</text>
<path d="M524.95 434.30V439.20" stroke="#2b2b2b" stroke-width="1"/>
<text x="527.87" y="447.02" font-size="8.0" text-anchor="middle" transform="rotate(-45 527.87 447.02)">11</text>
<path d="M537.15 434.30V439.20" stroke="#2b2b2b" stroke-width="1"/>
<text x="540.07" y="447.02" font-size="8.0" text-anchor="middle" transform="rotate(-45 540.07 447.02)">14</text>
<path d="M549.35 434.30V439.20" stroke="#2b2b2b" stroke-width="1"/>
<text x="552.27" y="447.02" font-size="8.0" text-anchor="middle" transform="rotate(-45 552.27 447.02)">21</text>
<path d="M561.55 434.30V439.20" stroke="#2b2b2b" stroke-width="1"/>
<text x="564.47" y="447.02" font-size="8.0" text-anchor="middle" transform="rotate(-45 564.47 447.02)">31</text>
<text x="486.60" y="270.50" font-size="8.3" text-anchor="start" >E019</text>
<rect x="36.10" y="555.03" width="8.00" height="102.87" fill="#e6574b"/>
<rect x="48.30" y="650.07" width="8.00" height="7.83" fill="#e6574b"/>
<rect x="60.50" y="657.38" width="8.00" height="0.52" fill="#e6574b"/>
<rect x="72.70" y="653.93" width="8.00" height="3.97" fill="#e6574b"/>
<rect x="84.90" y="648.81" width="8.00" height="9.09" fill="#e6574b"/>
<rect x="97.10" y="654.14" width="8.00" height="3.76" fill="#a0c4e6"/>
<rect x="109.30" y="643.07" width="8.00" height="14.83" fill="#a0c4e6"/>
<path d="M31.50 490.30V657.90H120.50" fill="none" stroke="#2b2b2b" stroke-width="1"/>
<path d="M26.90 657.90H31.50" stroke="#2b2b2b" stroke-width="1"/>
<text transform="translate(26.10 660.65) scale(0.94 1)" font-size="8.3" text-anchor="end">0</text>
<path d="M26.90 647.46H31.50" stroke="#2b2b2b" stroke-width="1"/>
<text transform="translate(26.10 650.20) scale(0.94 1)" font-size="8.3" text-anchor="end">100</text>
<path d="M26.90 637.01H31.50" stroke="#2b2b2b" stroke-width="1"/>
<text transform="translate(26.10 639.76) scale(0.94 1)" font-size="8.3" text-anchor="end">200</text>
<path d="M26.90 626.57H31.50" stroke="#2b2b2b" stroke-width="1"/>
<text transform="translate(26.10 629.32) scale(0.94 1)" font-size="8.3" text-anchor="end">300</text>
<path d="M26.90 616.12H31.50" stroke="#2b2b2b" stroke-width="1"/>
<text transform="translate(26.10 618.87) scale(0.94 1)" font-size="8.3" text-anchor="end">400</text>
<path d="M26.90 605.68H31.50" stroke="#2b2b2b" stroke-width="1"/>
<text transform="translate(26.10 608.43) scale(0.94 1)" font-size="8.3" text-anchor="end">500</text>
<path d="M26.90 595.24H31.50" stroke="#2b2b2b" stroke-width="1"/>
<text transform="translate(26.10 597.98) scale(0.94 1)" font-size="8.3" text-anchor="end">600</text>
<path d="M26.90 584.79H31.50" stroke="#2b2b2b" stroke-width="1"/>
<text transform="translate(26.10 587.54) scale(0.94 1)" font-size="8.3" text-anchor="end">700</text>
<path d="M26.90 574.35H31.50" stroke="#2b2b2b" stroke-width="1"/>
<text transform="translate(26.10 577.10) scale(0.94 1)" font-size="8.3" text-anchor="end">800</text>
<path d="M26.90 563.91H31.50" stroke="#2b2b2b" stroke-width="1"/>
<text transform="translate(26.10 566.65) scale(0.94 1)" font-size="8.3" text-anchor="end">900</text>
<path d="M26.90 553.46H31.50" stroke="#2b2b2b" stroke-width="1"/>
<text transform="translate(26.10 556.21) scale(0.94 1)" font-size="8.3" text-anchor="end">1000</text>
<path d="M26.90 543.02H31.50" stroke="#2b2b2b" stroke-width="1"/>
<text transform="translate(26.10 545.77) scale(0.94 1)" font-size="8.3" text-anchor="end">1100</text>
<path d="M26.90 532.58H31.50" stroke="#2b2b2b" stroke-width="1"/>
<text transform="translate(26.10 535.32) scale(0.94 1)" font-size="8.3" text-anchor="end">1200</text>
<path d="M26.90 522.13H31.50" stroke="#2b2b2b" stroke-width="1"/>
<text transform="translate(26.10 524.88) scale(0.94 1)" font-size="8.3" text-anchor="end">1300</text>
<path d="M26.90 511.69H31.50" stroke="#2b2b2b" stroke-width="1"/>
<text transform="translate(26.10 514.43) scale(0.94 1)" font-size="8.3" text-anchor="end">1400</text>
<path d="M26.90 501.24H31.50" stroke="#2b2b2b" stroke-width="1"/>
<text transform="translate(26.10 503.99) scale(0.94 1)" font-size="8.3" text-anchor="end">1500</text>
<path d="M26.90 490.80H31.50" stroke="#2b2b2b" stroke-width="1"/>
<text transform="translate(26.10 493.55) scale(0.94 1)" font-size="8.3" text-anchor="end">1600</text>
<path d="M40.10 657.90V662.50" stroke="#2b2b2b" stroke-width="1"/>
<text x="40.12" y="670.82" font-size="8.0" text-anchor="middle" transform="rotate(-45 40.12 670.82)">-8</text>
<path d="M52.30 657.90V662.50" stroke="#2b2b2b" stroke-width="1"/>
<text x="52.32" y="670.82" font-size="8.0" text-anchor="middle" transform="rotate(-45 52.32 670.82)">5</text>
<path d="M64.50 657.90V662.50" stroke="#2b2b2b" stroke-width="1"/>
<text x="64.52" y="670.82" font-size="8.0" text-anchor="middle" transform="rotate(-45 64.52 670.82)">7</text>
<path d="M76.70 657.90V662.50" stroke="#2b2b2b" stroke-width="1"/>
<text x="76.72" y="670.82" font-size="8.0" text-anchor="middle" transform="rotate(-45 76.72 670.82)">12</text>
<path d="M88.90 657.90V662.50" stroke="#2b2b2b" stroke-width="1"/>
<text x="88.92" y="670.82" font-size="8.0" text-anchor="middle" transform="rotate(-45 88.92 670.82)">15</text>
<path d="M101.10 657.90V662.50" stroke="#2b2b2b" stroke-width="1"/>
<text x="101.12" y="670.82" font-size="8.0" text-anchor="middle" transform="rotate(-45 101.12 670.82)">21</text>
<path d="M113.30 657.90V662.50" stroke="#2b2b2b" stroke-width="1"/>
<text x="113.32" y="670.82" font-size="8.0" text-anchor="middle" transform="rotate(-45 113.32 670.82)">30</text>
<text x="36.00" y="494.20" font-size="8.3" text-anchor="start" >E010</text>
<rect x="146.40" y="646.52" width="13.70" height="11.68" fill="#e6574b"/>
<rect x="167.00" y="656.53" width="13.70" height="1.67" fill="#1a3c96"/>
<rect x="187.60" y="651.69" width="13.70" height="6.51" fill="#1a3c96"/>
<rect x="187.60" y="544.78" width="13.70" height="106.92" fill="#a0c4e6"/>
<rect x="208.20" y="643.19" width="13.70" height="15.01" fill="#1a3c96"/>
<rect x="208.20" y="542.27" width="13.70" height="100.91" fill="#a0c4e6"/>
<path d="M139.40 490.90V658.20H229.20" fill="none" stroke="#2b2b2b" stroke-width="1"/>
<path d="M135.40 658.20H139.40" stroke="#2b2b2b" stroke-width="1"/>
<text transform="translate(135.10 660.95) scale(0.94 1)" font-size="8.3" text-anchor="end">0</text>
<path d="M135.40 616.50H139.40" stroke="#2b2b2b" stroke-width="1"/>
<text transform="translate(135.10 619.25) scale(0.94 1)" font-size="8.3" text-anchor="end">100</text>
<path d="M135.40 574.80H139.40" stroke="#2b2b2b" stroke-width="1"/>
<text transform="translate(135.10 577.55) scale(0.94 1)" font-size="8.3" text-anchor="end">200</text>
<path d="M135.40 533.10H139.40" stroke="#2b2b2b" stroke-width="1"/>
<text transform="translate(135.10 535.85) scale(0.94 1)" font-size="8.3" text-anchor="end">300</text>
<path d="M135.40 491.40H139.40" stroke="#2b2b2b" stroke-width="1"/>
<text transform="translate(135.10 494.15) scale(0.94 1)" font-size="8.3" text-anchor="end">400</text>
<path d="M153.25 658.20V662.50" stroke="#2b2b2b" stroke-width="1"/>
<text x="153.77" y="670.12" font-size="8.0" text-anchor="middle" transform="rotate(-45 153.77 670.12)">-2</text>
<path d="M173.85 658.20V662.50" stroke="#2b2b2b" stroke-width="1"/>
<text x="174.37" y="670.12" font-size="8.0" text-anchor="middle" transform="rotate(-45 174.37 670.12)">7</text>
<path d="M194.45 658.20V662.50" stroke="#2b2b2b" stroke-width="1"/>
<text x="194.97" y="670.12" font-size="8.0" text-anchor="middle" transform="rotate(-45 194.97 670.12)">11</text>
<path d="M215.05 658.20V662.50" stroke="#2b2b2b" stroke-width="1"/>
<text x="215.57" y="670.12" font-size="8.0" text-anchor="middle" transform="rotate(-45 215.57 670.12)">16</text>
<text x="146.00" y="494.30" font-size="8.3" text-anchor="start" >E013</text>
<rect x="255.40" y="655.16" width="9.20" height="2.64" fill="#e6574b"/>
<rect x="255.40" y="654.55" width="9.20" height="0.61" fill="#f2aaaa"/>
<rect x="269.10" y="650.09" width="9.20" height="7.71" fill="#1a3c96"/>
<rect x="269.10" y="600.96" width="9.20" height="49.13" fill="#a0c4e6"/>
<rect x="282.80" y="639.53" width="9.20" height="18.27" fill="#1a3c96"/>
<rect x="282.80" y="565.43" width="9.20" height="74.10" fill="#a0c4e6"/>
<rect x="296.50" y="646.03" width="9.20" height="11.77" fill="#1a3c96"/>
<rect x="296.50" y="592.23" width="9.20" height="53.79" fill="#a0c4e6"/>
<rect x="310.20" y="637.70" width="9.20" height="20.10" fill="#1a3c96"/>
<rect x="310.20" y="522.40" width="9.20" height="115.30" fill="#a0c4e6"/>
<rect x="323.90" y="655.57" width="9.20" height="2.23" fill="#1a3c96"/>
<rect x="323.90" y="630.60" width="9.20" height="24.97" fill="#a0c4e6"/>
<path d="M250.50 494.90V657.80H337.40" fill="none" stroke="#2b2b2b" stroke-width="1"/>
<path d="M246.50 657.80H250.50" stroke="#2b2b2b" stroke-width="1"/>
<text transform="translate(246.40 660.55) scale(0.925 1)" font-size="8.3" text-anchor="end">0</text>
<path d="M246.50 617.20H250.50" stroke="#2b2b2b" stroke-width="1"/>
<text transform="translate(246.40 619.95) scale(0.925 1)" font-size="8.3" text-anchor="end">200</text>
<path d="M246.50 576.60H250.50" stroke="#2b2b2b" stroke-width="1"/>
<text transform="translate(246.40 579.35) scale(0.925 1)" font-size="8.3" text-anchor="end">400</text>
<path d="M246.50 536.00H250.50" stroke="#2b2b2b" stroke-width="1"/>
<text transform="translate(246.40 538.75) scale(0.925 1)" font-size="8.3" text-anchor="end">600</text>
<path d="M246.50 495.40H250.50" stroke="#2b2b2b" stroke-width="1"/>
<text transform="translate(246.40 498.15) scale(0.925 1)" font-size="8.3" text-anchor="end">800</text>
<path d="M260.00 657.80V661.90" stroke="#2b2b2b" stroke-width="1"/>
<text x="260.82" y="669.92" font-size="8.0" text-anchor="middle" transform="rotate(-45 260.82 669.92)">-7</text>
<path d="M273.70 657.80V661.90" stroke="#2b2b2b" stroke-width="1"/>
<text x="274.52" y="669.92" font-size="8.0" text-anchor="middle" transform="rotate(-45 274.52 669.92)">7</text>
<path d="M287.40 657.80V661.90" stroke="#2b2b2b" stroke-width="1"/>
<text x="288.22" y="669.92" font-size="8.0" text-anchor="middle" transform="rotate(-45 288.22 669.92)">11</text>
<path d="M301.10 657.80V661.90" stroke="#2b2b2b" stroke-width="1"/>
<text x="301.92" y="669.92" font-size="8.0" text-anchor="middle" transform="rotate(-45 301.92 669.92)">14</text>
<path d="M314.80 657.80V661.90" stroke="#2b2b2b" stroke-width="1"/>
<text x="315.62" y="669.92" font-size="8.0" text-anchor="middle" transform="rotate(-45 315.62 669.92)">20</text>
<path d="M328.50 657.80V661.90" stroke="#2b2b2b" stroke-width="1"/>
<text x="329.32" y="669.92" font-size="8.0" text-anchor="middle" transform="rotate(-45 329.32 669.92)">30</text>
<text x="261.80" y="494.30" font-size="8.3" text-anchor="start" >E014</text>
<rect x="371.50" y="550.52" width="13.50" height="107.28" fill="#e6574b"/>
<rect x="371.50" y="542.93" width="13.50" height="7.59" fill="#f2aaaa"/>
<rect x="391.90" y="653.90" width="13.50" height="3.90" fill="#a0c4e6"/>
<rect x="391.90" y="653.12" width="13.50" height="0.78" fill="#1a3c96"/>
<rect x="412.30" y="653.08" width="13.50" height="4.72" fill="#a0c4e6"/>
<rect x="412.30" y="652.10" width="13.50" height="0.98" fill="#1a3c96"/>
<rect x="432.70" y="653.08" width="13.50" height="4.72" fill="#a0c4e6"/>
<rect x="432.70" y="652.10" width="13.50" height="0.98" fill="#1a3c96"/>
<path d="M364.40 493.20V657.80H452.10" fill="none" stroke="#2b2b2b" stroke-width="1"/>
<path d="M361.20 657.80H364.40" stroke="#2b2b2b" stroke-width="1"/>
<text transform="translate(361.00 660.35) scale(0.96 1)" font-size="8.3" text-anchor="end">0</text>
<path d="M361.20 616.77H364.40" stroke="#2b2b2b" stroke-width="1"/>
<text transform="translate(361.00 619.32) scale(0.96 1)" font-size="8.3" text-anchor="end">1000</text>
<path d="M361.20 575.75H364.40" stroke="#2b2b2b" stroke-width="1"/>
<text transform="translate(361.00 578.30) scale(0.96 1)" font-size="8.3" text-anchor="end">2000</text>
<path d="M361.20 534.73H364.40" stroke="#2b2b2b" stroke-width="1"/>
<text transform="translate(361.00 537.27) scale(0.96 1)" font-size="8.3" text-anchor="end">3000</text>
<path d="M361.20 493.70H364.40" stroke="#2b2b2b" stroke-width="1"/>
<text transform="translate(361.00 496.25) scale(0.96 1)" font-size="8.3" text-anchor="end">4000</text>
<path d="M378.25 657.80V662.50" stroke="#2b2b2b" stroke-width="1"/>
<text x="380.07" y="669.82" font-size="8.0" text-anchor="middle" transform="rotate(-45 380.07 669.82)">-23</text>
<path d="M398.65 657.80V662.50" stroke="#2b2b2b" stroke-width="1"/>
<text x="400.47" y="669.82" font-size="8.0" text-anchor="middle" transform="rotate(-45 400.47 669.82)">7</text>
<path d="M419.05 657.80V662.50" stroke="#2b2b2b" stroke-width="1"/>
<text x="420.87" y="669.82" font-size="8.0" text-anchor="middle" transform="rotate(-45 420.87 669.82)">11</text>
<path d="M439.45 657.80V662.50" stroke="#2b2b2b" stroke-width="1"/>
<text x="441.27" y="669.82" font-size="8.0" text-anchor="middle" transform="rotate(-45 441.27 669.82)">14</text>
<text x="368.10" y="494.30" font-size="8.3" text-anchor="start" >E015</text>
<rect x="488.80" y="654.91" width="14.00" height="3.39" fill="#e6574b"/>
<rect x="509.80" y="655.34" width="14.00" height="2.96" fill="#e6574b"/>
<rect x="509.80" y="653.64" width="14.00" height="1.69" fill="#f2aaaa"/>
<rect x="530.80" y="505.84" width="14.00" height="152.46" fill="#a0c4e6"/>
<rect x="551.80" y="597.74" width="14.00" height="60.56" fill="#a0c4e6"/>
<path d="M481.70 488.40V658.30H572.00" fill="none" stroke="#2b2b2b" stroke-width="1"/>
<path d="M477.70 658.30H481.70" stroke="#2b2b2b" stroke-width="1"/>
<text transform="translate(477.20 661.05) scale(0.94 1)" font-size="8.3" text-anchor="end">0</text>
<path d="M477.70 615.95H481.70" stroke="#2b2b2b" stroke-width="1"/>
<text transform="translate(477.20 618.70) scale(0.94 1)" font-size="8.3" text-anchor="end">100</text>
<path d="M477.70 573.60H481.70" stroke="#2b2b2b" stroke-width="1"/>
<text transform="translate(477.20 576.35) scale(0.94 1)" font-size="8.3" text-anchor="end">200</text>
<path d="M477.70 531.25H481.70" stroke="#2b2b2b" stroke-width="1"/>
<text transform="translate(477.20 534.00) scale(0.94 1)" font-size="8.3" text-anchor="end">300</text>
<path d="M477.70 488.90H481.70" stroke="#2b2b2b" stroke-width="1"/>
<text transform="translate(477.20 491.65) scale(0.94 1)" font-size="8.3" text-anchor="end">400</text>
<path d="M495.80 658.30V662.50" stroke="#2b2b2b" stroke-width="1"/>
<text x="496.82" y="670.22" font-size="8.0" text-anchor="middle" transform="rotate(-45 496.82 670.22)">0</text>
<path d="M516.80 658.30V662.50" stroke="#2b2b2b" stroke-width="1"/>
<text x="517.82" y="670.22" font-size="8.0" text-anchor="middle" transform="rotate(-45 517.82 670.22)">7</text>
<path d="M537.80 658.30V662.50" stroke="#2b2b2b" stroke-width="1"/>
<text x="538.82" y="670.22" font-size="8.0" text-anchor="middle" transform="rotate(-45 538.82 670.22)">10</text>
<path d="M558.80 658.30V662.50" stroke="#2b2b2b" stroke-width="1"/>
<text x="559.82" y="670.22" font-size="8.0" text-anchor="middle" transform="rotate(-45 559.82 670.22)">14</text>
<text x="488.90" y="494.30" font-size="8.3" text-anchor="start" >E016</text>
<rect x="601.10" y="644.95" width="8.20" height="12.55" fill="#e6574b"/>
<rect x="601.10" y="642.01" width="8.20" height="2.93" fill="#f2aaaa"/>
<rect x="613.10" y="635.66" width="8.20" height="21.84" fill="#e6574b"/>
<rect x="613.10" y="633.38" width="8.20" height="2.28" fill="#f2aaaa"/>
<rect x="613.10" y="629.46" width="8.20" height="3.91" fill="#a0c4e6"/>
<rect x="625.10" y="651.96" width="8.20" height="5.54" fill="#a0c4e6"/>
<rect x="625.10" y="650.98" width="8.20" height="0.98" fill="#1a3c96"/>
<rect x="637.10" y="571.11" width="8.20" height="86.39" fill="#a0c4e6"/>
<rect x="637.10" y="558.07" width="8.20" height="13.04" fill="#1a3c96"/>
<rect x="649.10" y="609.09" width="8.20" height="48.41" fill="#a0c4e6"/>
<rect x="649.10" y="593.93" width="8.20" height="15.16" fill="#1a3c96"/>
<rect x="661.10" y="562.96" width="8.20" height="94.54" fill="#a0c4e6"/>
<rect x="661.10" y="543.40" width="8.20" height="19.56" fill="#1a3c96"/>
<rect x="673.10" y="596.86" width="8.20" height="60.64" fill="#a0c4e6"/>
<rect x="673.10" y="592.30" width="8.20" height="4.56" fill="#1a3c96"/>
<path d="M597.50 494.00V657.50H685.00" fill="none" stroke="#2b2b2b" stroke-width="1"/>
<path d="M593.50 657.50H597.50" stroke="#2b2b2b" stroke-width="1"/>
<text transform="translate(593.20 660.25) scale(0.91 1)" font-size="8.3" text-anchor="end">0</text>
<path d="M593.50 624.90H597.50" stroke="#2b2b2b" stroke-width="1"/>
<text transform="translate(593.20 627.65) scale(0.91 1)" font-size="8.3" text-anchor="end">20</text>
<path d="M593.50 592.30H597.50" stroke="#2b2b2b" stroke-width="1"/>
<text transform="translate(593.20 595.05) scale(0.91 1)" font-size="8.3" text-anchor="end">40</text>
<path d="M593.50 559.70H597.50" stroke="#2b2b2b" stroke-width="1"/>
<text transform="translate(593.20 562.45) scale(0.91 1)" font-size="8.3" text-anchor="end">60</text>
<path d="M593.50 527.10H597.50" stroke="#2b2b2b" stroke-width="1"/>
<text transform="translate(593.20 529.85) scale(0.91 1)" font-size="8.3" text-anchor="end">80</text>
<path d="M593.50 494.50H597.50" stroke="#2b2b2b" stroke-width="1"/>
<text transform="translate(593.20 497.25) scale(0.91 1)" font-size="8.3" text-anchor="end">100</text>
<path d="M605.20 657.50V661.90" stroke="#2b2b2b" stroke-width="1"/>
<text x="606.22" y="669.72" font-size="8.0" text-anchor="middle" transform="rotate(-45 606.22 669.72)">0</text>
<path d="M617.20 657.50V661.90" stroke="#2b2b2b" stroke-width="1"/>
<text x="618.22" y="669.72" font-size="8.0" text-anchor="middle" transform="rotate(-45 618.22 669.72)">5</text>
<path d="M629.20 657.50V661.90" stroke="#2b2b2b" stroke-width="1"/>
<text x="630.22" y="669.72" font-size="8.0" text-anchor="middle" transform="rotate(-45 630.22 669.72)">7</text>
<path d="M641.20 657.50V661.90" stroke="#2b2b2b" stroke-width="1"/>
<text x="642.22" y="669.72" font-size="8.0" text-anchor="middle" transform="rotate(-45 642.22 669.72)">11</text>
<path d="M653.20 657.50V661.90" stroke="#2b2b2b" stroke-width="1"/>
<text x="654.22" y="669.72" font-size="8.0" text-anchor="middle" transform="rotate(-45 654.22 669.72)">14</text>
<path d="M665.20 657.50V661.90" stroke="#2b2b2b" stroke-width="1"/>
<text x="666.22" y="669.72" font-size="8.0" text-anchor="middle" transform="rotate(-45 666.22 669.72)">21</text>
<path d="M677.20 657.50V661.90" stroke="#2b2b2b" stroke-width="1"/>
<text x="678.22" y="669.72" font-size="8.0" text-anchor="middle" transform="rotate(-45 678.22 669.72)">31</text>
<text x="608.40" y="494.30" font-size="8.3" text-anchor="start" >E018</text>
<text x="31.00" y="7.20" font-size="9.0" text-anchor="start" textLength="517" lengthAdjust="spacingAndGlyphs" style="stroke-width:0.12px">Received previous CD7 CAR therapy before CD5 CAR infusion; had circulating CD7 CAR-T cells after CD5 CAR infusion</text>
<text x="37.00" y="250.50" font-size="9.0" text-anchor="start" textLength="530.6" lengthAdjust="spacingAndGlyphs" style="stroke-width:0.12px">Received previous CD7 CAR therapy before CD5 CAR infusion; had no circulating CD7 CAR-T cells after CD5 CAR infusion</text>
<text x="36.90" y="472.80" font-size="9.0" text-anchor="start" textLength="173.1" lengthAdjust="spacingAndGlyphs" style="stroke-width:0.12px">Received no previous CD7 CAR therapy</text>
<text x="18.80" y="225.80" font-size="9.7" text-anchor="start" textLength="131.3" lengthAdjust="spacingAndGlyphs">Days since CAR T-cell infusion</text>
<text x="0" y="0" font-size="9.5" text-anchor="middle" transform="translate(6.3 116.9) rotate(-90)">T cell per μL</text>
<rect x="565.20" y="10.30" width="7.8" height="3.9" fill="#a0c4e6"/>
<text x="576.40" y="15.30" font-size="8.3" style="stroke-width:0.05px">CD5<tspan font-size="4.6" dy="-3.3">−</tspan><tspan dy="3.3">&#8201;,CD7</tspan><tspan font-size="4.6" dy="-3.3">+</tspan></text>
<rect x="565.20" y="20.20" width="7.8" height="3.9" fill="#052f91"/>
<text x="576.40" y="25.20" font-size="8.3" style="stroke-width:0.05px">CD5<tspan font-size="4.6" dy="-3.3">−</tspan><tspan dy="3.3">&#8201;,CD7</tspan><tspan font-size="4.6" dy="-3.3">−</tspan></text>
<rect x="624.10" y="10.50" width="7.8" height="3.9" fill="#f09c9c"/>
<text x="635.30" y="15.50" font-size="8.3" style="stroke-width:0.05px">CD5<tspan font-size="4.6" dy="-3.3">+</tspan><tspan dy="3.3">,CD7</tspan><tspan font-size="4.6" dy="-3.3">−</tspan></text>
<rect x="624.10" y="20.20" width="7.8" height="3.9" fill="#e03c3c"/>
<text x="635.30" y="25.20" font-size="8.3" style="stroke-width:0.05px">CD5<tspan font-size="4.6" dy="-3.3">+</tspan><tspan dy="3.3">,CD7</tspan><tspan font-size="4.6" dy="-3.3">+</tspan></text>
</svg>
</body></html>
